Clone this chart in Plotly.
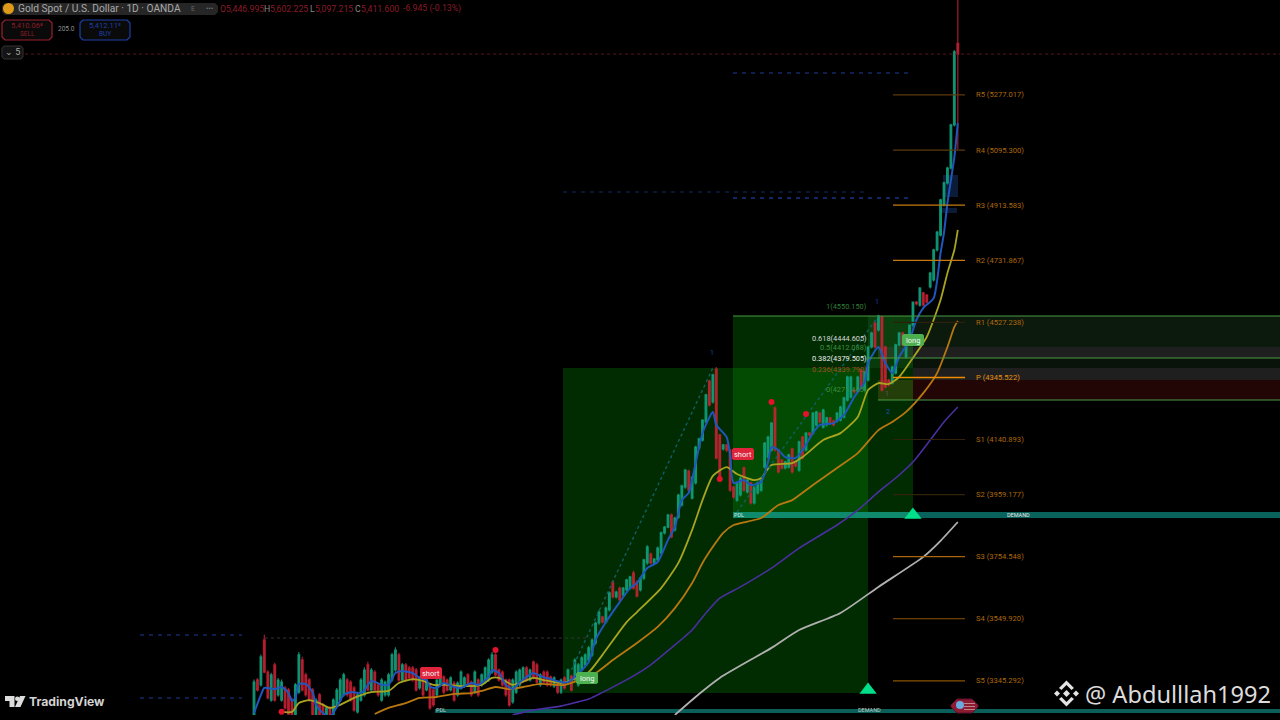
import plotly.graph_objects as go

# ---- price data (one entry per daily bar) ----
opens = [3233,3348,3332,3480,3374,3282,3398,3299,3282,3322,3315,3282,3229,3308,3414,3365,3348,3315,3229,3299,
3266,3183,3256,3229,3266,3282,3299,3348,3341,3322,3243,3282,3299,3398,3315,3374,3332,3282,3299,3299,
3348,3381,3431,3348,3398,3388,3388,3381,3322,3348,3315,3332,3315,3299,3332,3358,3348,3315,3338,3299,
3322,3328,3365,3341,3308,3348,3332,3341,3348,3374,3431,3381,3374,3348,3348,3276,3308,3332,3348,3388,
3348,3407,3398,3332,3374,3374,3358,3328,3341,3308,3355,3348,3361,3348,3332,3381,3398,3414,3431,3470,
3536,3556,3539,3579,3671,3622,3651,3628,3645,3651,3701,3671,3645,3684,3734,3763,3734,3744,3767,3833,
3852,3892,3843,3885,3925,3984,4037,3948,3998,4113,4139,4199,4334,4265,4373,4156,4110,4123,4106,3984,
3941,3958,4047,3968,3998,3932,3965,3974,4050,4083,4106,4245,4106,4073,4047,4050,4110,4067,4040,4149,
4106,4162,4162,4189,4228,4182,4189,4212,4202,4202,4205,4215,4271,4281,4304,4304,4370,4304,4337,4446,
4525,4502,4545,4446,4337,4327,4360,4453,4492,4413,4469,4518,4594,4584,4624,4617,4644,4667,4766,4815,
4914,4987,5036,5178,5447]
closes = [3341,3315,3424,3374,3289,3365,3282,3348,3341,3256,3236,3223,3332,3431,3315,3299,3282,3233,3282,3229,
3200,3256,3183,3282,3315,3348,3365,3299,3282,3249,3299,3348,3381,3315,3381,3315,3299,3348,3341,3365,
3431,3447,3348,3398,3348,3355,3348,3315,3355,3299,3348,3256,3266,3348,3365,3308,3315,3355,3282,3338,
3374,3355,3332,3299,3374,3299,3365,3388,3414,3431,3365,3348,3332,3299,3266,3348,3374,3381,3388,3348,
3381,3355,3341,3365,3341,3332,3332,3355,3308,3348,3322,3381,3315,3414,3398,3421,3431,3454,3480,3536,
3572,3539,3585,3635,3622,3638,3612,3651,3678,3688,3651,3625,3684,3744,3787,3734,3747,3783,3833,3852,
3892,3820,3882,3958,3988,4040,3974,4017,4116,4143,4205,4288,4255,4354,4080,4007,4123,4106,3974,3951,
3998,4014,3974,4007,3932,3984,3998,4007,4129,4149,4195,4106,4034,4047,4067,4090,4034,4054,4133,4080,
4162,4156,4228,4232,4199,4238,4212,4195,4189,4228,4248,4278,4347,4347,4298,4347,4311,4364,4446,4492,
4446,4548,4304,4314,4321,4380,4453,4492,4453,4453,4518,4594,4588,4640,4584,4594,4690,4766,4825,4931,
4987,5036,5178,5419,5411]
highs = [3350,3355,3432,3497,3380,3372,3405,3355,3350,3328,3322,3290,3338,3440,3425,3372,3355,3322,3288,3305,
3272,3262,3262,3288,3322,3355,3372,3355,3347,3328,3306,3355,3390,3408,3388,3380,3338,3355,3346,3372,
3438,3456,3438,3404,3404,3394,3394,3388,3360,3354,3353,3338,3322,3354,3370,3364,3353,3360,3345,3344,
3380,3360,3370,3346,3380,3354,3370,3393,3420,3440,3436,3386,3380,3353,3353,3354,3380,3386,3393,3394,
3386,3412,3404,3370,3380,3380,3363,3360,3346,3353,3360,3386,3366,3420,3404,3426,3436,3460,3486,3540,
3578,3560,3590,3640,3678,3642,3656,3655,3682,3692,3708,3676,3688,3748,3792,3768,3750,3788,3838,3856,
3896,3897,3886,3962,3992,4044,4041,4020,4120,4147,4208,4292,4338,4358,4380,4160,4126,4127,4110,3988,
4002,4018,4052,4011,4002,3988,4002,4011,4133,4153,4199,4250,4110,4077,4071,4094,4114,4071,4137,4153,
4166,4166,4232,4236,4232,4242,4216,4216,4206,4232,4252,4282,4351,4351,4308,4351,4374,4368,4450,4496,
4529,4552,4549,4450,4341,4384,4457,4496,4496,4457,4473,4522,4598,4644,4628,4621,4694,4770,4829,4935,
4991,5040,5182,5425,5602]
lows = [3225,3310,3326,3370,3284,3276,3276,3293,3276,3250,3230,3218,3223,3303,3310,3293,3276,3228,3224,3224,
3195,3178,3178,3224,3260,3276,3293,3293,3276,3243,3238,3276,3293,3310,3310,3310,3293,3276,3293,3293,
3342,3375,3342,3342,3342,3350,3342,3310,3316,3293,3310,3250,3260,3293,3326,3302,3310,3310,3276,3293,
3316,3322,3326,3293,3302,3293,3326,3335,3342,3368,3360,3342,3326,3293,3260,3270,3302,3326,3342,3342,
3342,3350,3335,3326,3335,3326,3326,3322,3302,3302,3316,3342,3310,3342,3326,3376,3393,3408,3425,3464,
3530,3534,3534,3574,3617,3617,3607,3622,3640,3646,3646,3620,3640,3678,3728,3729,3729,3740,3762,3828,
3848,3815,3838,3880,3920,3979,3969,3943,3993,4108,4134,4194,4250,4260,4075,4002,4105,4100,3969,3946,
3936,3953,3969,3963,3927,3927,3960,3969,4045,4078,4101,4101,4029,4042,4042,4045,4029,4049,4035,4075,
4101,4151,4157,4184,4194,4177,4184,4190,4184,4197,4200,4210,4266,4276,4293,4299,4306,4299,4332,4441,
4441,4497,4299,4309,4316,4322,4355,4448,4448,4408,4464,4513,4583,4579,4579,4589,4639,4662,4761,4810,
4909,4982,5031,5173,5097]

blue_bars = [0,2,3,6,8,10,11,12,13,15,17,18,20,22,24,26,28,31,32,34,37,39,41,43,46,48,50,51,53,55,58,60,63,65,68,69,71,73,75,77,79,81,83,86,89,91,93,97,99,102,106,109,111,114,117,120,122,124,126,128,130,133,134,137,138,139,142,144,147,149,150,152,154,157,159,162,164,168,171,174,177,178,181,183,185,187,190,192,194,197,199,200,201,203,204]
blue_vals = [3239,3299,3322,3318,3325,3305,3279,3289,3335,3335,3308,3266,3239,3226,3259,3299,3308,3305,3315,3345,3332,3332,3371,3378,3371,3355,3348,3325,3322,3338,3325,3322,3338,3332,3358,3381,3371,3332,3318,3341,3358,3371,3361,3351,3341,3341,3358,3407,3480,3539,3605,3651,3668,3717,3737,3810,3852,3941,3965,4063,4162,4232,4189,4149,4090,3998,4007,3991,4001,4067,4116,4106,4083,4080,4106,4162,4189,4195,4222,4281,4331,4393,4446,4393,4360,4413,4469,4535,4575,4607,4756,4822,4921,5072,5184]
yellow_bars = [8,11,13,16,19,22,25,29,34,39,42,46,49,52,56,60,66,69,71,75,77,81,84,89,92,97,101,108,111,118,123,127,130,133,137,140,145,147,150,156,159,165,170,175,178,181,184,187,191,195,199,201,203,204]
yellow_vals = [3243,3243,3272,3282,3272,3256,3266,3289,3308,3312,3338,3351,3345,3332,3332,3328,3332,3355,3355,3332,3338,3355,3348,3338,3348,3374,3431,3539,3572,3651,3734,3843,3941,4021,4050,4027,4007,4014,4057,4063,4083,4139,4162,4215,4304,4327,4324,4347,4410,4479,4601,4690,4766,4832]
orange_bars = [35,39,44,48,53,58,63,66,70,74,78,83,90,99,104,111,117,122,127,130,133,136,139,147,152,156,162,169,175,181,185,189,194,198,201,203,204]
orange_vals = [3236,3256,3272,3289,3292,3302,3305,3312,3325,3318,3325,3335,3332,3371,3414,3470,3523,3585,3668,3734,3787,3833,3859,3882,3925,3941,3991,4047,4096,4172,4199,4232,4294,4360,4446,4512,4532]
purple_bars = [75,81,89,94,97,109,115,121,127,131,135,141,150,158,169,175,181,186,191,196,200,204]
purple_vals = [3233,3249,3262,3276,3285,3355,3398,3454,3513,3569,3618,3655,3717,3783,3859,3908,3968,4014,4067,4139,4199,4248]
white_bars = [122,129,135,150,158,170,181,194,199,204]
white_vals = [3233,3302,3355,3454,3513,3569,3655,3754,3807,3869]

pivot_names = ["R5","R4","R3","R2","R1","P","S1","S2","S3","S4","S5"]
pivot_vals = [5277.017,5095.300,4913.583,4731.867,4527.238,4345.522,4140.893,3959.177,3754.548,3549.920,3345.292]
pivot_cols = ["#5c3a0c","#5c3a0c","#c77a12","#c77a12","#2e1f08","#f08c00","#33220a","#33220a","#a96508","#8a5206","#8a5206"]

fib_names = ["1","0.618","0.5","0.382","0.236","0"]
fib_vals = ["4550.150","4444.605","4412.088","4379.505","4339.790","4271.465"]

dot_bars = [150,160,70,8,135]
dot_vals = [4265,4225,3447,3243,4011]
tri_bars = [191,178]
tri_vals = [3892,3315]

W, H, BOTTOM = 1280, 720, 715
def fx(px): return px / W
def fy(py): return (BOTTOM - py) / BOTTOM
def bar(px): return (px - 254) / 3.45
def price(py): return 5590 - 3.297 * py

XR = [bar(0), bar(W)]
YR = [price(BOTTOM), price(0)]

fig = go.Figure()
shapes, ann = [], []

def zone(x0, x1, y0, y1, color, layer="below"):
    shapes.append(dict(type="rect", xref="x", yref="y", x0=bar(x0), x1=bar(x1), y0=price(y1), y1=price(y0),
                       fillcolor=color, line=dict(width=0), layer=layer))
def hline(x0, x1, y, color, width=1, dash="solid", layer="above"):
    shapes.append(dict(type="line", xref="x", yref="y", x0=bar(x0), x1=bar(x1), y0=price(y), y1=price(y),
                       line=dict(color=color, width=width, dash=dash), layer=layer))
def path(d, fill=None, line=None, lw=1, layer="above"):
    shapes.append(dict(type="path", xref="paper", yref="paper", path=d, fillcolor=fill or "rgba(0,0,0,0)",
                       line=dict(color=line or "rgba(0,0,0,0)", width=lw if line else 0), layer=layer))
def P(*pts):
    return "M" + " L".join(f"{fx(a):.5f},{fy(b):.5f}" for a, b in pts) + " Z"
def rrect(x0, y0, x1, y1, r=2):
    return P((x0+r,y0),(x1-r,y0),(x1,y0+r),(x1,y1-r),(x1-r,y1),(x0+r,y1),(x0,y1-r),(x0,y0+r))
def text(px, py, s, size=7, color="#a0a0a0", anchor="left", family="Roboto, sans-serif", weight="normal"):
    ann.append(dict(xref="paper", yref="paper", x=fx(px), y=fy(py), text=s, showarrow=False, xanchor=anchor,
                    yanchor="middle", font=dict(size=size, color=color, family=family, weight=weight), borderpad=0))

# ---- green position boxes ----
zone(563, 733, 368, 693, "#012c01")
zone(733, 868, 516, 693, "#012c01")
zone(733, 868, 368, 516, "#034a03")
zone(733, 868, 316, 368, "#012c02")
zone(868, 913, 316, 516, "#012c02")
# ---- order-block zones to the right ----
zone(868, 1280, 316, 347, "rgba(90,190,100,0.13)")
zone(878, 1280, 347, 358, "rgba(140,140,140,0.22)")
zone(868, 1280, 358, 368, "rgba(90,190,100,0.10)")
zone(913, 1280, 368, 380, "rgba(140,140,140,0.22)")
zone(913, 1280, 380, 400, "rgba(170,30,30,0.20)")
zone(878, 913, 380, 400, "rgba(130,110,30,0.28)")
zone(943, 958, 175, 197, "#0c1c38")
zone(940, 957, 208, 213, "#0c1c38")
hline(733, 1280, 316, "#4a9a45", 1.2)
hline(868, 1280, 358, "#4a9a45", 1.2)
hline(878, 1280, 400, "#4a9a45", 1.2)
# ---- dashed / dotted reference lines ----
hline(25, 1280, 54, "#5a1420", 1, "dot")
hline(733, 913, 73, "#1c3f9a", 1, "4px,5px")
hline(563, 868, 192, "#142a66", 1, "4px,5px")
hline(733, 913, 198, "#2450c8", 1, "4px,5px")
hline(140, 242, 635, "#1c3f9a", 1, "4px,5px")
hline(140, 242, 698, "#1c3f9a", 1, "4px,5px")
hline(265, 590, 638, "#333333", 1, "dot")
# ---- demand bands ----
hline(733, 913, 515, "#0f8a6c", 6, layer="below")
hline(913, 1280, 515, "#0a625c", 6, layer="below")
hline(435, 1280, 711, "#0a5f5a", 4, layer="below")
# ---- pivots ----
for n, v, c in zip(pivot_names, pivot_vals, pivot_cols):
    py = (5590 - v) / 3.297
    lw = 1.6 if n == "P" else 1.2
    hline(893, 965, py, c, lw)
    text(975, py, f"{n} ({v:.3f})", size=7.6, color="#e88e10" if n == "P" else "#ad680c")

# ---- candles ----
fig.add_trace(go.Candlestick(x=list(range(len(opens))), open=opens, high=highs, low=lows, close=closes,
    increasing=dict(line=dict(color="rgba(16,160,125,0.85)", width=1.2), fillcolor="rgba(16,160,125,0.85)"),
    decreasing=dict(line=dict(color="rgba(205,35,55,0.75)", width=1.3), fillcolor="rgba(215,35,55,0.75)"),
    whiskerwidth=0, hoverinfo="skip", showlegend=False))

# ---- moving averages ----
def ma(xs, ys, color, width):
    fig.add_trace(go.Scatter(x=xs, y=ys, mode="lines", line=dict(color=color, width=width, shape="spline", smoothing=0.6),
                             hoverinfo="skip", showlegend=False))
ma(white_bars, white_vals, "#b0b0b0", 1.8)
ma(purple_bars, purple_vals, "#4a2fa0", 1.6)
ma(orange_bars, orange_vals, "#b8780f", 1.8)
ma(yellow_bars, yellow_vals, "#a8a420", 1.8)
ma(blue_bars, blue_vals, "#1f57bd", 2)

# ---- wave lines ----
for xs, ys in (([92,133],[3381,4377]), ([140,181],[3902,4548])):
    fig.add_trace(go.Scatter(x=xs, y=ys, mode="lines", line=dict(color="#0f5f66", width=1.4, dash="dot"),
                             hoverinfo="skip", showlegend=False))

# ---- signal markers ----
fig.add_trace(go.Scatter(x=dot_bars, y=dot_vals, mode="markers", marker=dict(color="#e3122c", size=6),
                         hoverinfo="skip", showlegend=False))
fig.add_trace(go.Scatter(x=tri_bars, y=tri_vals, mode="markers", marker=dict(color="#00e08a", size=15, symbol="triangle-up"),
                         hoverinfo="skip", showlegend=False))

# ---- signal labels ----
for px, py, s, c in ((743,454,"short","#e0243c"), (431,673,"short","#e0243c"), (587,678,"long","#4caf50"), (913,340,"long","#4caf50")):
    path(rrect(px-11, py-6, px+11, py+6, 1.5), fill=c)
    text(px, py, s, size=7.5, color="#f4f4f4", anchor="center")

# ---- fib labels ----
fib_pos = [(868,306,"#2e7d32"),(868,338,"#d8d8d8"),(868,347,"#3e8e3e"),(868,358,"#f0f0f0"),(868,369,"#a04a22"),(868,390,"#3e8e3e")]
for n, v, (px, py, c) in zip(fib_names, fib_vals, fib_pos):
    text(px, py, f"{n}({v})", size=7.4, color=c, anchor="right")

# ---- wave numbers ----
for px, py, s, c in ((712,353,"1","#1c40a0"),(877,302,"1","#1c40a0"),(888,412,"2","#1c4fb0"),(887,394,"1","#555555")):
    text(px, py, s, size=7, color=c, anchor="center")

# ---- band labels ----
text(739, 515, "PDL", size=5.5, color="#d8e8e0", anchor="center")
text(1018, 515, "DEMAND", size=5.5, color="#e8e8e8", anchor="center")
text(441, 710, "PDL", size=5.5, color="#c0d0c8", anchor="center")
text(869, 710, "DEMAND", size=5.5, color="#c0d0c8", anchor="center")

# ---- header ----
path(rrect(2, 3, 218, 15, 3), fill="#262626", layer="above")
shapes.append(dict(type="circle", xref="paper", yref="paper", x0=fx(3), x1=fx(14), y0=fy(14), y1=fy(3),
                   fillcolor="#e09a1a", line=dict(width=0), layer="above"))
text(17, 9, "Gold Spot / U.S. Dollar · 1D · OANDA", size=10.2, color="#a8a8a8")
text(190, 9, "E", size=7, color="#666666")
text(205, 9, "•••", size=7, color="#777777")
red = "#8a1c28"
text(219, 9, "O5,446.995", size=8.7, color=red)
text(263, 9, "H", size=8.7, color="#888888")
text(269, 9, "5,602.225", size=8.7, color=red)
text(309, 9, "L", size=8.7, color="#888888")
text(314, 9, "5,097.215", size=8.7, color=red)
text(354, 9, "C", size=8.7, color="#888888")
text(360, 9, "5,411.600", size=8.7, color=red)
text(402, 9, "-6.945 (-0.13%)", size=8.7, color=red)
path(rrect(2, 20, 52, 40, 3), fill="#0a0a0a", line="#9a2030", lw=1.2)
path(rrect(80, 20, 130, 40, 3), fill="#0a0a0a", line="#1c40a8", lw=1.2)
text(27, 25, "5,410.06⁸", size=7.6, color="#8a1c28", anchor="center")
text(27, 34, "SELL", size=6.5, color="#8a1c28", anchor="center")
text(105, 25, "5,412.11⁵", size=7.6, color="#1c40a8", anchor="center")
text(105, 34, "BUY", size=6.5, color="#1c40a8", anchor="center")
text(66, 29, "205.0", size=6.5, color="#909090", anchor="center")
path(rrect(2, 46, 23, 59, 2), fill="#141414", line="#333333", lw=1)
text(12.5, 52, "⌄ 5", size=9, color="#a8a8a8", anchor="center")

# ---- news pill ----
path(rrect(951, 699, 978, 713, 6), fill="#8e1c30", line="#5a1030", lw=1)
shapes.append(dict(type="circle", xref="paper", yref="paper", x0=fx(956), x1=fx(964), y0=fy(709), y1=fy(701),
                   fillcolor="#6aa8e0", line=dict(width=0), layer="above"))
for yy in (703, 706, 709):
    path(P((964,yy),(975,yy),(975,yy+0.8),(964,yy+0.8)), fill="#c8a0a8")

# ---- TradingView watermark ----
wt = "#dcdcdc"
path(P((5,696),(14.5,696),(14.5,707),(9.5,707),(9.5,701),(5,701)), fill=wt)
shapes.append(dict(type="circle", xref="paper", yref="paper", x0=fx(15), x1=fx(19.5), y0=fy(701), y1=fy(696.5),
                   fillcolor=wt, line=dict(width=0), layer="above"))
path(P((20,696),(25.5,696),(20.5,707),(15,707)), fill=wt)
text(28, 701.5, "TradingView", size=12.2, color="#d4d4d4", family="Inter, Roboto, sans-serif", weight="bold")

# ---- Binance watermark ----
cx, cy = 1066.5, 693.5
wm = "#e4e4e4"
path(P((cx,cy-3.5),(cx+3.5,cy),(cx,cy+3.5),(cx-3.5,cy)), fill=wm)
path(P((cx-9.5,cy-3),(cx-6.5,cy),(cx-9.5,cy+3),(cx-12.5,cy)), fill=wm)
path(P((cx+9.5,cy-3),(cx+12.5,cy),(cx+9.5,cy+3),(cx+6.5,cy)), fill=wm)
path(P((cx,cy-13),(cx+7.5,cy-5.5),(cx+5,cy-3.5),(cx,cy-8.5),(cx-5,cy-3.5),(cx-7.5,cy-5.5)), fill=wm)
path(P((cx,cy+13),(cx+7.5,cy+5.5),(cx+5,cy+3.5),(cx,cy+8.5),(cx-5,cy+3.5),(cx-7.5,cy+5.5)), fill=wm)
text(1084, 693.5, "@ Abdulllah1992", size=23.6, color="#dcdcdc", family="Noto Sans, sans-serif")

fig.update_layout(
    width=W, height=H, autosize=False,
    margin=dict(l=0, r=0, t=0, b=H - BOTTOM),
    paper_bgcolor="#000000", plot_bgcolor="#000000",
    xaxis=dict(range=XR, visible=False, rangeslider=dict(visible=False), fixedrange=True),
    yaxis=dict(range=YR, visible=False, fixedrange=True),
    shapes=shapes, annotations=ann, showlegend=False, hovermode=False,
)
fig.write_html("out.html", config=dict(displayModeBar=False),
               post_script="document.body.style.margin='0';document.body.style.background='#000';")
